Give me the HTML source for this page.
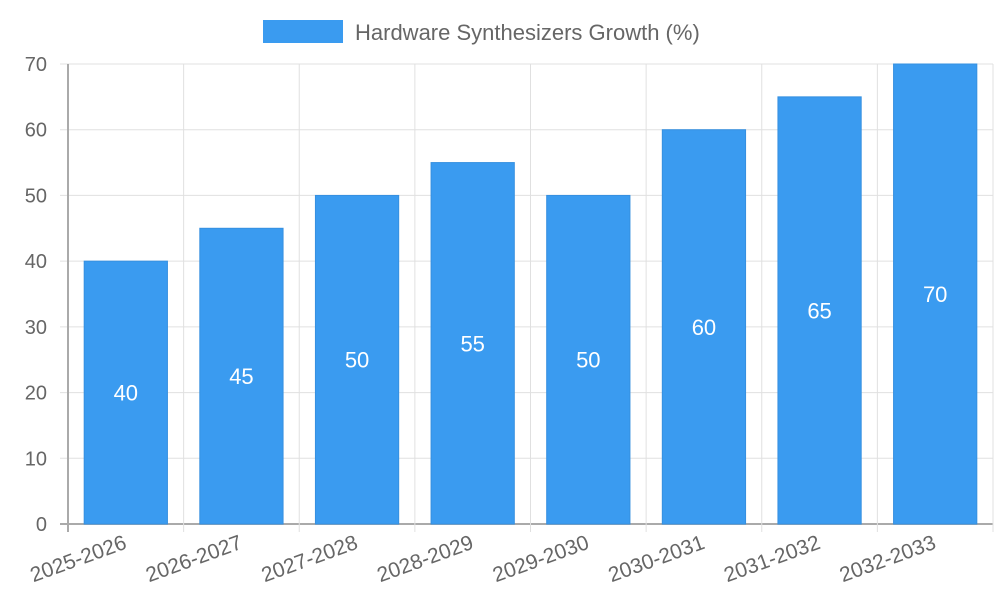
<!DOCTYPE html>
<html><head><meta charset="utf-8"><style>
body{margin:0;background:#fff;}
svg{display:block;font-family:"Liberation Sans",sans-serif;}
</style></head><body>
<svg id="c" width="1000" height="600"></svg>
<script>
const categories=["2025-2026","2026-2027","2027-2028","2028-2029","2029-2030","2030-2031","2031-2032","2032-2033"];
const growthValues=[40,45,50,55,50,60,65,70];
const yTicks=[0,10,20,30,40,50,60,70];
const NS="http://www.w3.org/2000/svg";
const svg=document.getElementById("c");
const L=68,R=993,T=64,B=524,yMax=70;
const bw=(R-L)/categories.length;
const y=v=>B-(v/yMax)*(B-T);
const x=i=>L+i*bw;
function mk(t,a,p){const e=document.createElementNS(NS,t);for(const k in a)e.setAttribute(k,a[k]);(p||svg).appendChild(e);return e;}
// grid
yTicks.forEach(v=>{
  const g=mk("line",{x1:L-8,x2:R,y1:y(v),y2:y(v),stroke:v===0?"#aaa":"#e0e0e0","stroke-width":v===0?2:1});
  
  
  const t=mk("text",{x:47,y:y(v)+7,"text-anchor":"end","font-size":20,fill:"#666"});
  t.textContent=v;
  
  
});
for(let i=0;i<=categories.length;i++){
  const g=mk("line",{x1:x(i),x2:x(i),y1:T,y2:B+8,stroke:i===0?"#aaa":"#e0e0e0","stroke-width":i===0?2:1});
  
  
}
categories.forEach((c,i)=>{
  const v=growthValues[i];
  const bx=x(i)+bw*0.14, w=bw*0.72;
  const r=mk("rect",{x:bx,y:y(v),width:w,height:B-y(v),fill:"#3a9bf0",stroke:"#3690e0","stroke-width":1});
  
  
  const vt=mk("text",{x:bx+w/2,y:(y(v)+B)/2+8,"text-anchor":"middle","font-size":22,fill:"#fff"});
  vt.textContent=v;
  
  
  const cx=x(i)+bw/2+2;
  const lt=mk("text",{x:cx,y:548,"text-anchor":"end","font-size":21,fill:"#666",transform:`rotate(-20 ${cx} 548)`});
  lt.textContent=c;
  
  
});
const lg=mk("g",{});


mk("rect",{x:263,y:20,width:80,height:23,fill:"#3a9bf0"},lg);
const ltx=mk("text",{x:355,y:40,"font-size":22,fill:"#666"},lg);
ltx.textContent="Hardware Synthesizers Growth (%)";


</script>
</body></html>
